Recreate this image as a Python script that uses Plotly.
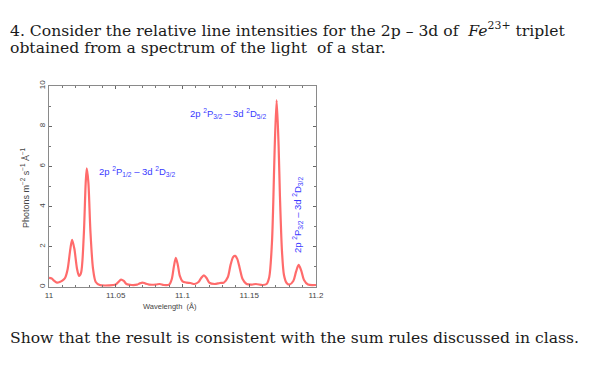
import plotly.graph_objects as go

# Spectrum (wavelength in Angstrom, photons m^-2 s^-1 A^-1)
wavelength = [11.000, 11.002, 11.004, 11.006, 11.008, 11.010, 11.012, 11.014, 11.016, 11.0173,
              11.019, 11.021, 11.0225, 11.024, 11.026, 11.0275, 11.0283, 11.0295, 11.031, 11.033,
              11.035, 11.038, 11.045, 11.050, 11.052, 11.054, 11.056, 11.058, 11.062, 11.066,
              11.068, 11.070, 11.072, 11.075, 11.080, 11.083, 11.086, 11.090, 11.092, 11.0935,
              11.095, 11.0965, 11.098, 11.100, 11.103, 11.106, 11.109, 11.112, 11.114, 11.116,
              11.118, 11.120, 11.124, 11.128, 11.131, 11.134, 11.136, 11.138, 11.1395, 11.141,
              11.143, 11.145, 11.148, 11.152, 11.155, 11.160, 11.163, 11.165, 11.167, 11.168,
              11.169, 11.1705, 11.172, 11.173, 11.1745, 11.176, 11.178, 11.180, 11.183, 11.185,
              11.187, 11.189, 11.191, 11.194, 11.200]
intensity = [0.45, 0.42, 0.30, 0.22, 0.25, 0.32, 0.45, 0.90, 1.90, 2.35,
             1.90, 0.90, 0.55, 0.70, 2.50, 5.20, 5.90, 5.20, 2.80, 0.90,
             0.25, 0.10, 0.08, 0.12, 0.25, 0.37, 0.30, 0.15, 0.10, 0.12,
             0.18, 0.22, 0.18, 0.12, 0.12, 0.15, 0.10, 0.12, 0.40, 1.00,
             1.45, 1.10, 0.55, 0.28, 0.22, 0.20, 0.15, 0.25, 0.45, 0.58,
             0.45, 0.22, 0.15, 0.20, 0.22, 0.50, 1.10, 1.50, 1.55, 1.40,
             0.90, 0.40, 0.15, 0.12, 0.15, 0.10, 0.15, 0.50, 2.20, 4.20,
             6.80, 9.30, 7.00, 4.50, 1.80, 0.60, 0.20, 0.12, 0.30, 0.75,
             1.10, 0.80, 0.35, 0.12, 0.10]

x_ticks = [11.0, 11.05, 11.1, 11.15, 11.2]
x_tick_labels = ["11", "11.05", "11.1", "11.15", "11.2"]
y_ticks = [0, 2, 4, 6, 8, 10]

W, H = 605, 391
L, R, T, B = 49, 316, 86, 287  # plot area in pixels

def px(x):
    return (x - L) / (R - L)

def py(y):
    return (B - y) / (B - T)

fig = go.Figure()
fig.add_trace(go.Scatter(
    x=wavelength, y=intensity, mode="lines",
    line=dict(color="rgba(255,70,70,0.8)", width=2.2, shape="spline", smoothing=0.8),
    hoverinfo="skip", showlegend=False,
))

axis_common = dict(
    showgrid=False, zeroline=False, showline=True, linecolor="#8a8a8a", linewidth=1,
    mirror="allticks", ticks="inside", ticklen=3, tickcolor="#666",
    tickfont=dict(family="Liberation Sans, Arial", size=8, color="#444"),
)
fig.update_xaxes(range=[11.0, 11.2], tickvals=x_ticks, ticktext=x_tick_labels,
                 minor=dict(dtick=0.01, ticks="inside", ticklen=2, tickcolor="#777"),
                 **axis_common)
fig.update_yaxes(range=[0, 10], tickvals=y_ticks, tickangle=-90,
                 minor=dict(dtick=1, ticks="inside", ticklen=2, tickcolor="#777"),
                 **axis_common)

serif = "DejaVu Serif, Georgia, serif"
sans = "Liberation Sans, Arial"
blue = "#3a3aff"
ann = [
    dict(x=px(8), y=py(29), text="4. Consider the relative line intensities for the 2p – 3d of  <i>Fe</i><sup>23+</sup> triplet",
         xanchor="left", font=dict(family=serif, size=15.6, color="#1a1a1a")),
    dict(x=px(8), y=py(48), text="obtained from a spectrum of the light  of a star.",
         xanchor="left", font=dict(family=serif, size=15.6, color="#1a1a1a")),
    dict(x=px(8), y=py(338), text="Show that the result is consistent with the sum rules discussed in class.",
         xanchor="left", font=dict(family=serif, size=15.6, color="#1a1a1a")),
    dict(x=px(137), y=py(171), text="2p <sup>2</sup>P<sub>1/2</sub> – 3d <sup>2</sup>D<sub>3/2</sub>",
         font=dict(family=sans, size=9.5, color=blue)),
    dict(x=px(228), y=py(113), text="2p <sup>2</sup>P<sub>3/2</sub> – 3d <sup>2</sup>D<sub>5/2</sub>",
         font=dict(family=sans, size=9.5, color=blue)),
    dict(x=px(297), y=py(215), text="2p <sup>2</sup>P<sub>3/2</sub> – 3d <sup>2</sup>D<sub>3/2</sub>",
         textangle=-90, font=dict(family=sans, size=9.5, color=blue)),
    dict(x=px(25), y=py(188), text="Photons m<sup>−2</sup> s<sup>−1</sup> Å<sup>−1</sup>",
         textangle=-90, font=dict(family=sans, size=9, color="#444")),
    dict(x=px(170), y=py(306), text="Wavelength  (Å)",
         font=dict(family=sans, size=7.5, color="#444")),
]
for a in ann:
    a.update(xref="paper", yref="paper", showarrow=False)
    a.setdefault("xanchor", "center")
    a.setdefault("yanchor", "middle")

fig.update_layout(
    width=W, height=H,
    margin=dict(l=L, r=W - R, t=T, b=H - B),
    paper_bgcolor="white", plot_bgcolor="white",
    annotations=ann,
)
fig.write_html("out.html", config={"displayModeBar": False},
               post_script="document.body.style.margin='0';document.body.style.overflow='hidden';")
